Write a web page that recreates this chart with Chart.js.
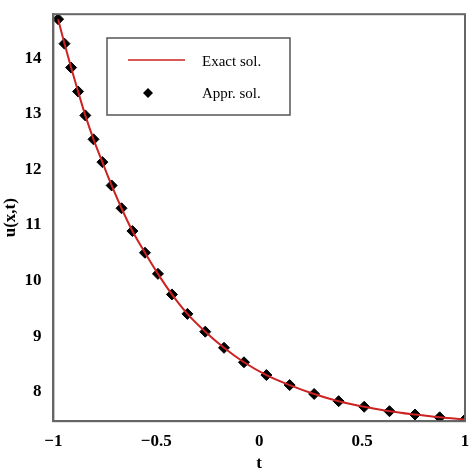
<!DOCTYPE html>
<html>
<head>
<meta charset="utf-8">
<script src="https://cdn.jsdelivr.net/npm/chart.js@4"></script>
<style>
html,body{margin:0;padding:0;background:#fff;}
#wrap{width:474px;height:474px;}
</style>
</head>
<body>
<div id="wrap"><canvas id="c" width="474" height="474"></canvas></div>
<script>
const tVals = [-0.977,-0.946,-0.914,-0.880,-0.845,-0.805,-0.762,-0.717,-0.669,-0.616,-0.555,-0.492,-0.424,-0.349,-0.262,-0.171,-0.074,0.035,0.148,0.267,0.386,0.51,0.633,0.757,0.877,1.0];
const uVals = [14.70,14.26,13.83,13.40,12.97,12.54,12.13,11.71,11.30,10.89,10.50,10.12,9.75,9.40,9.08,8.79,8.53,8.30,8.12,7.96,7.83,7.73,7.65,7.59,7.54,7.50];
const xTicks = [-1, -0.5, 0, 0.5, 1];
const yTicks = [8, 9, 10, 11, 12, 13, 14];

const pts = tVals.map((t, i) => ({ x: t, y: uVals[i] }));
const font = { family: 'Liberation Serif', size: 17, weight: 'bold' };

// frame + legend box drawn by hand, like the original
const legendBox = {
    id: 'legendBox',
    afterDraw(chart) {
        const ctx = chart.ctx;
        const a = chart.chartArea;
        ctx.save();
        ctx.strokeStyle = '#666';
        ctx.lineWidth = 2;
        ctx.strokeRect(a.left, a.top, a.right - a.left, a.bottom - a.top);
        ctx.strokeStyle = '#555';
        ctx.lineWidth = 1.5;
        ctx.strokeRect(107, 38, 183, 77);
        ctx.strokeStyle = '#cc2222';
        ctx.beginPath(); ctx.moveTo(128, 60); ctx.lineTo(185, 60); ctx.stroke();
        ctx.fillStyle = '#000';
        ctx.beginPath();
        ctx.moveTo(148, 88); ctx.lineTo(153, 93); ctx.lineTo(148, 98); ctx.lineTo(143, 93);
        ctx.closePath(); ctx.fill();
        ctx.font = '15px "Liberation Serif"';
        ctx.textBaseline = 'middle';
        ctx.fillText('Exact sol.', 202, 62);
        ctx.fillText('Appr. sol.', 202, 94);
        ctx.restore();
    }
};

new Chart(document.getElementById('c').getContext('2d'), {
    type: 'scatter',
    data: {
        datasets: [
            {
                label: 'Exact sol.',
                data: pts,
                showLine: true,
                borderColor: '#cc2222',
                borderWidth: 2,
                pointRadius: 0,
                cubicInterpolationMode: 'monotone'
            },
            {
                label: 'Appr. sol.',
                data: pts,
                pointStyle: 'rect',
                rotation: 45,
                pointRadius: 5.5,
                backgroundColor: '#000',
                borderColor: '#000'
            }
        ]
    },
    options: {
        responsive: false,
        animation: false,
        layout: { padding: { top: 2, right: 9, left: 0, bottom: 0 } },
        plugins: { legend: { display: false }, tooltip: { enabled: false } },
        scales: {
            x: {
                type: 'linear', min: -1, max: 1,
                afterBuildTicks: a => { a.ticks = xTicks.map(v => ({ value: v })); },
                grid: { display: false },
                border: { color: '#666', width: 2 },
                ticks: { color: '#000', font: font, padding: 2, callback: v => String(v).replace('-', '−') },
                title: { display: true, text: 't', color: '#000', font: font, padding: 0 }
            },
            y: {
                type: 'linear', min: 7.47, max: 14.79,
                afterBuildTicks: a => { a.ticks = yTicks.map(v => ({ value: v })); },
                grid: { display: false },
                border: { color: '#666', width: 2 },
                ticks: { color: '#000', font: font, padding: 4 },
                title: { display: true, text: 'u(x,t)', color: '#000', font: font, padding: 0 }
            }
        }
    },
    plugins: [legendBox]
});
</script>
</body>
</html>
